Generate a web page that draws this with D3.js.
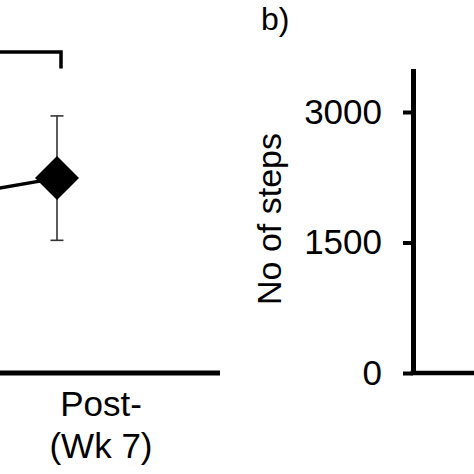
<!DOCTYPE html>
<html><head><meta charset="utf-8">
<script src="https://cdn.jsdelivr.net/npm/d3@7"></script>
<style>
body{margin:0;background:#fff}
svg{display:block}
text{font-family:"Liberation Sans",Arial,sans-serif;fill:#000}
</style>
</head><body><svg id="c" width="474" height="474"></svg>
<script>
// ---- Panel a (only its right part is visible) ----
const timepoints = ["Pre-", "Post-"];
const timepointSub = ["(Wk 0)", "(Wk 7)"];
const stepsMean = [1800, 2240];
const stepsSD = [700, 715];
const bracketValues = [3690, 3500]; // bracket top, bracket drop end
// ---- Panel b ----
const panelBLabel = "b)";
const panelBYTitle = "No of steps";
const bTicks = [0, 1500, 3000];
const bDomain = [0, 3500];

const W = 474;
const svg = d3.select("#c");

// shared vertical scale (same layout for both panels)
const y = d3.scaleLinear().domain(bDomain).range([373, 68.5]);

// ---------- Panel a ----------
const xa = d3.scalePoint().domain(timepoints).range([-119, 101]);
const dodge = -44;
const pts = timepoints.map((t, i) => ({t, m: stepsMean[i], sd: stepsSD[i]}));

// x axis line
svg.append("line")
  .attr("x1", -10).attr("x2", 220)
  .attr("y1", y(0)).attr("y2", y(0))
  .attr("stroke", "#000").attr("stroke-width", 5);

// category labels (only those inside the visible window)
const visibleCats = timepoints.filter(d => xa(d) > 0 && xa(d) < W);
const lab = svg.append("g").selectAll("text").data(visibleCats).join("text")
  .attr("text-anchor", "middle")
  .attr("font-size", 35);
lab.append("tspan").attr("x", d => xa(d)).attr("y", 416).text(d => d);
lab.append("tspan").attr("x", d => xa(d)).attr("y", 458).text(d => timepointSub[timepoints.indexOf(d)]);

// significance bracket
const bx0 = xa(timepoints[0]) + dodge + 4, bx1 = xa(timepoints[1]) + dodge + 4;
svg.append("path")
  .attr("d", `M${bx0},${y(bracketValues[0])}H${bx1}V${y(bracketValues[1])}`)
  .attr("fill", "none").attr("stroke", "#000").attr("stroke-width", 3.5);

// error bars
const eb = svg.append("g").selectAll("g").data(pts).join("g")
  .attr("stroke", "#333").attr("stroke-width", 1.6);
eb.append("line")
  .attr("x1", d => xa(d.t) + dodge).attr("x2", d => xa(d.t) + dodge)
  .attr("y1", d => y(d.m + d.sd)).attr("y2", d => y(d.m - d.sd));
eb.append("line")
  .attr("x1", d => xa(d.t) + dodge - 6.5).attr("x2", d => xa(d.t) + dodge + 6.5)
  .attr("y1", d => y(d.m + d.sd)).attr("y2", d => y(d.m + d.sd));
eb.append("line")
  .attr("x1", d => xa(d.t) + dodge - 6.5).attr("x2", d => xa(d.t) + dodge + 6.5)
  .attr("y1", d => y(d.m - d.sd)).attr("y2", d => y(d.m - d.sd));

// mean line
svg.append("path").datum(pts)
  .attr("d", d3.line().x(d => xa(d.t) + dodge).y(d => y(d.m)))
  .attr("fill", "none").attr("stroke", "#000").attr("stroke-width", 3.5);

// diamonds
svg.append("g").selectAll("path").data(pts).join("path")
  .attr("d", d3.symbol().type(d3.symbolSquare).size(968))
  .attr("transform", d => `translate(${xa(d.t) + dodge},${y(d.m)}) rotate(45)`)
  .attr("fill", "#000");

// ---------- Panel b ----------
const axX = 413;
const gy = svg.append("g").attr("transform", `translate(${axX},0)`)
  .call(d3.axisLeft(y).tickValues(bTicks).tickSize(10).tickSizeOuter(0).tickPadding(21).tickFormat(d3.format("d")));
gy.select(".domain").attr("stroke", "#000").attr("stroke-width", 5);
gy.selectAll(".tick line").attr("stroke", "#000").attr("stroke-width", 4);
gy.selectAll(".tick text").attr("font-size", 35).attr("font-family", "Liberation Sans, Arial, sans-serif").attr("fill", "#000");

// x axis of panel b
svg.append("line")
  .attr("x1", axX - 2.5).attr("x2", 480)
  .attr("y1", y(0)).attr("y2", y(0))
  .attr("stroke", "#000").attr("stroke-width", 4.5);

svg.append("text").attr("x", 261).attr("y", 30).attr("font-size", 32).text(panelBLabel);

svg.append("text")
  .attr("transform", "translate(281,219) rotate(-90)")
  .attr("text-anchor", "middle").attr("font-size", 34)
  .text(panelBYTitle);
</script>
</body></html>
